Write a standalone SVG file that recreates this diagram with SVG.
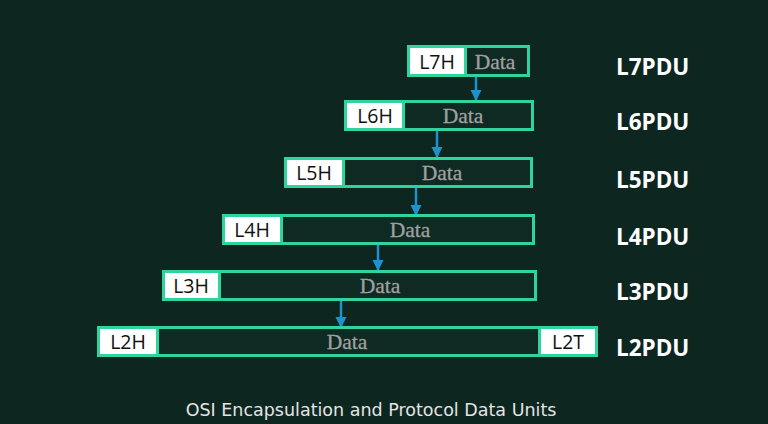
<svg xmlns="http://www.w3.org/2000/svg" width="768" height="424" viewBox="0 0 768 424">
<defs>
<style>
.box{fill:#0f2a22;stroke:#2fd49c;stroke-width:3}
.hdr{fill:#ffffff;stroke:#2fd49c;stroke-width:3}
.ht{font-family:"Open Sans","Liberation Sans",sans-serif;font-size:19.5px;fill:#111111;text-anchor:middle}
.dt{font-family:"Liberation Serif",serif;font-size:21.5px;fill:#a0a0a0;text-anchor:middle;stroke:#a0a0a0;stroke-width:0.3}
.pdu{font-family:"Open Sans","Liberation Sans",sans-serif;font-size:22.5px;font-weight:bold;fill:#ffffff}
.arr{stroke:#1c93cf;stroke-width:2.5;fill:none}
</style>
<marker id="ah" markerWidth="12" markerHeight="12" refX="10" refY="6" orient="auto" markerUnits="userSpaceOnUse">
<path d="M0,0.5 L11,6 L0,11.5 Z" fill="#1c93cf"/>
</marker>
</defs>
<rect width="768" height="424" fill="#0e2620"/>

<g id="connectors">
<line class="arr" x1="476" y1="77" x2="476" y2="100" marker-end="url(#ah)"/>
<line class="arr" x1="437" y1="131" x2="437" y2="157" marker-end="url(#ah)"/>
<line class="arr" x1="416" y1="188" x2="416" y2="215" marker-end="url(#ah)"/>
<line class="arr" x1="378" y1="244" x2="378" y2="270" marker-end="url(#ah)"/>
<line class="arr" x1="341" y1="301" x2="341" y2="327" marker-end="url(#ah)"/>
</g>

<g id="l7">
<rect class="box" x="408.5" y="46.5" width="120" height="29"/>
<rect class="hdr" x="408.5" y="46.5" width="57" height="29"/>
<text class="ht" x="437" y="69">L7H</text>
<text class="dt" x="495" y="69">Data</text>
<text class="pdu" x="616" y="75">L7PDU</text>
</g>

<g id="l6">
<rect class="box" x="345.5" y="101.5" width="187" height="28"/>
<rect class="hdr" x="345.5" y="101.5" width="58" height="28"/>
<text class="ht" x="375" y="123">L6H</text>
<text class="dt" x="463" y="123">Data</text>
<text class="pdu" x="616" y="130">L6PDU</text>
</g>

<g id="l5">
<rect class="box" x="285.5" y="158.5" width="246" height="28"/>
<rect class="hdr" x="285.5" y="158.5" width="58" height="28"/>
<text class="ht" x="314" y="180">L5H</text>
<text class="dt" x="442" y="180">Data</text>
<text class="pdu" x="616" y="188">L5PDU</text>
</g>

<g id="l4">
<rect class="box" x="223.5" y="215.5" width="310" height="28"/>
<rect class="hdr" x="223.5" y="215.5" width="58" height="28"/>
<text class="ht" x="252" y="237">L4H</text>
<text class="dt" x="410" y="237">Data</text>
<text class="pdu" x="616" y="245">L4PDU</text>
</g>

<g id="l3">
<rect class="box" x="163.5" y="271.5" width="372" height="28"/>
<rect class="hdr" x="163.5" y="271.5" width="56" height="28"/>
<text class="ht" x="191" y="293">L3H</text>
<text class="dt" x="380" y="293">Data</text>
<text class="pdu" x="616" y="300">L3PDU</text>
</g>

<g id="l2">
<rect class="box" x="98.5" y="327.5" width="498" height="28"/>
<rect class="hdr" x="98.5" y="327.5" width="59" height="28"/>
<rect class="hdr" x="539.5" y="327.5" width="57" height="28"/>
<text class="ht" x="128" y="349">L2H</text>
<text class="dt" x="347" y="349">Data</text>
<text class="ht" x="568" y="349">L2T</text>
<text class="pdu" x="616" y="356">L2PDU</text>
</g>

<g id="caption">
<text x="371" y="416" font-family="'DejaVu Sans',Verdana,sans-serif" font-size="17.5" fill="#e4e4e4" text-anchor="middle">OSI Encapsulation and Protocol Data Units</text>
</g>
</svg>
